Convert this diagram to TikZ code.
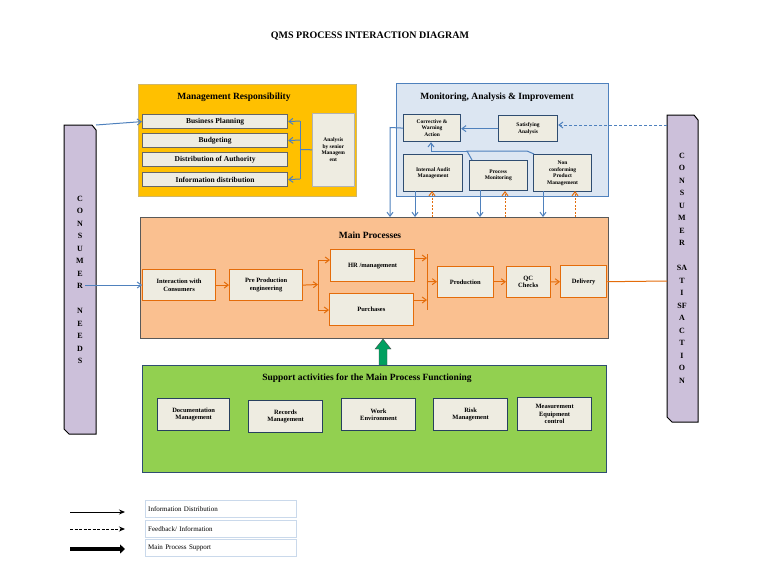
\documentclass[tikz,border=0pt]{standalone}
\usepackage{fontspec}
\setmainfont{Liberation Serif}
\usetikzlibrary{arrows.meta,calc}
\definecolor{mgold}{HTML}{FFC000}
\definecolor{mblue}{HTML}{DCE6F2}
\definecolor{bline}{HTML}{4F81BD}
\definecolor{morange}{HTML}{FAC090}
\definecolor{oline}{HTML}{E46C0A}
\definecolor{mgreen}{HTML}{92D050}
\definecolor{mpurp}{HTML}{CCC0DA}
\definecolor{boxf}{HTML}{EEECE1}
\definecolor{sgreen}{HTML}{00A060}
\begin{document}
\begin{tikzpicture}[x=1pt,y=-1pt,
 box/.style={draw=#1,fill=boxf,line width=1.2pt,inner sep=0pt,align=center,font=\bfseries\fontsize{6.5}{7.5}\selectfont},
 bx/.style args={#1,#2,#3,#4}{minimum width={#3-#1},minimum height={#4-#2}},
 ttl/.style={font=\bfseries\fontsize{9.5}{11}\selectfont},
 barr/.style={draw=bline,line width=1pt,-{Straight Barb[length=4pt,width=6pt]}},
 oarr/.style={draw=oline,line width=1pt,-{Straight Barb[length=4pt,width=6pt]}},
 odash/.style={oarr,dashed,dash pattern=on 2pt off 1.5pt},
 side/.style={font=\bfseries\fontsize{8}{12.5}\selectfont,align=center,inner sep=0pt},
 leg/.style={draw=bline!30,fill=white,minimum width=151,minimum height=17,inner sep=3pt,text width=145,align=left,font=\fontsize{7}{8}\selectfont}]
\useasboundingbox (0,0) rectangle (768,576);
\node[font=\bfseries\fontsize{10}{12}\selectfont] (title) at (370,36) {QMS PROCESS INTERACTION DIAGRAM};

% side bars
\draw[fill=mpurp,line width=1pt] (64,125) -- (92,125) -- (96,130) -- (96,434) -- (69,434) -- (64,429) -- cycle;
\coordinate (cn) at (96,125);
\node[side] (cneeds) at (80,280) {C\\O\\N\\S\\U\\M\\E\\R\\[12.5pt]N\\E\\E\\D\\S};
\draw[fill=mpurp,line width=1pt] (667,115) -- (694,115) -- (698,120) -- (698,422) -- (672,422) -- (667,417) -- cycle;
\node[side] (csat) at (682,268) {C\\O\\N\\S\\U\\M\\E\\R\\[12.5pt]SA\\T\\I\\SF\\A\\C\\T\\I\\O\\N};

% management
\draw[fill=mgold,draw=mgold!70!black!60] (138,84) rectangle (356,196);
\node[ttl] (mt) at (234,97) {Management Responsibility};
\node[box=black!60,bx={142,114,287,128},anchor=north west,font=\bfseries\fontsize{7.5}{9}\selectfont] (bp) at (142,114) {Business Planning};
\node[box=black!60,bx={142,133,287,147},anchor=north west,font=\bfseries\fontsize{7.5}{9}\selectfont] (bud) at (142,133) {Budgeting};
\node[box=black!60,bx={142,152,287,166},anchor=north west,font=\bfseries\fontsize{7.5}{9}\selectfont] (doa) at (142,152) {Distribution of Authority};
\node[box=black!60,bx={142,172,287,186},anchor=north west,font=\bfseries\fontsize{7.5}{9}\selectfont] (infd) at (142,172) {Information distribution};
\node[box=black!30,line width=0.6pt,bx={312,113,354,186},anchor=north west,font=\bfseries\fontsize{5.5}{6.5}\selectfont] (ana) at (312,113) {Analysis\\by senior\\Managem\\ent};
\draw[bline,line width=1pt] (ana.west) -- (300,149.5) coordinate (aj);
\draw[bline,line width=1pt] (300,121) -- (300,179);
\draw[barr] (300,121) -- (bp.east);
\draw[barr] (300,140) -- (bud.east);
\draw[barr] (300,179) -- (infd.east);
\draw[barr] (cn) -- (bp.west);

% monitoring
\draw[fill=mblue,draw=bline,line width=0.8pt] (396,83) rectangle (608,196);
\node[ttl] (mon) at (497,97) {Monitoring, Analysis \& Improvement};
\node[box=bline!60!black,bx={403,114,460,141},anchor=north west,font=\bfseries\fontsize{5.5}{6.5}\selectfont] (corr) at (403,114) {Corrective \&\\Warning\\Action};
\node[box=bline!60!black,bx={498,115,557,141},anchor=north west,font=\bfseries\fontsize{5.5}{6.5}\selectfont] (satan) at (498,115) {Satisfying\\Analysis};
\node[box=bline!60!black,bx={403,154,462,191},anchor=north west,font=\bfseries\fontsize{5.5}{6.5}\selectfont] (ia) at (403,154) {Internal Audit\\Management};
\node[box=bline!60!black,line width=0.6pt,bx={469,160,527,190},anchor=north west,font=\bfseries\fontsize{5.5}{6.5}\selectfont] (pm) at (469,160) {Process\\Monitoring};
\node[box=bline!60!black,bx={533,154,591,191},anchor=north west,font=\bfseries\fontsize{5.5}{6.5}\selectfont] (nc) at (533,154) {Non\\conforming\\Product\\Management};
\draw[barr] (satan.west) -- (corr.east |- satan.west);
\draw[bline,line width=1pt] (pm.north west) ++(3,0) -- (467,151) -- (527,151) -- ([xshift=1pt]nc.north west);
\draw[barr] (467,151) -- (431,151) -- (corr.south -| 431,0);
\draw[barr,dashed,dash pattern=on 3pt off 2pt] (667,125) -- (satan.east |- 0,125);

% main processes
\draw[fill=morange,draw=black!65,line width=1pt] (140,217) rectangle (608,338);
\node[ttl] (mp) at (370,235) {Main Processes};
\node[box=oline,bx={142,269,215,300},anchor=north west] (ic) at (142,269) {Interaction with\\Consumers};
\node[box=oline,bx={229,269,302,300},anchor=north west] (pp) at (229,269) {Pre Production\\engineering};
\node[box=oline,bx={330,249,414,281},anchor=north west] (hr) at (330,249) {HR /management};
\node[box=oline,line width=0.6pt,bx={329,293,413,325},anchor=north west] (pur) at (329,293) {Purchases};
\node[box=oline,line width=0.6pt,bx={437,266,493,297},anchor=north west] (prod) at (437,266) {Production};
\node[box=oline,line width=0.6pt,bx={506,266,550,297},anchor=north west] (qc) at (506,266) {QC\\Checks};
\node[box=oline,line width=1.4pt,bx={560,265,606,297},anchor=north west] (del) at (560,265) {Delivery};
\draw[oarr] (ic) -- (pp);
\draw[oarr] (pp.east) -- (318,284.5);
\draw[oline,line width=1pt] (318,260) -- (318,310);
\draw[oarr] (318,260) -- (hr.west |- 0,260);
\draw[oarr] (318,310) -- (pur.west |- 0,310);
\draw[oarr] (hr.east |- 0,258) -- (427,258);
\draw[oarr] (pur.east |- 0,300) -- (427,300);
\draw[oline,line width=1pt] (427,254) -- (427,310);
\draw[oarr] (427,281.5) -- (prod.west);
\draw[oarr] (prod) -- (qc);
\draw[oarr] (qc) -- (del);
\draw[oline,line width=1pt] (del.east) -- (667,281);
\draw[barr] (85,285) -- (ic.west |- 0,285);

% monitoring <-> main
\draw[barr] (corr.west) -- (390,127.5) -- (390,217);
\draw[barr] (415,191) -- (415,217);
\draw[barr] (480,190) -- (480,217);
\draw[barr] (543,191) -- (543,217);
\draw[odash] (432,217) -- (432,191);
\draw[odash] (505,217) -- (505,191);
\draw[odash] (575,217) -- (575,191);

% support
\draw[fill=mgreen,draw=bline!60!black,line width=1pt] (142,365) rectangle (606,472);
\node[ttl] (sup) at (367,378) {Support activities for the Main Process Functioning};
\node[box=bline!50!black,bx={157,398,229,430},anchor=north west] (doc) at (157,398) {Documentation\\Management};
\node[box=bline!50!black,bx={248,400,322,432},anchor=north west] (rec) at (248,400) {Records\\Management};
\node[box=bline!50!black,bx={341,398,415,430},anchor=north west] (work) at (341,398) {Work\\Environment};
\node[box=bline!50!black,bx={433,398,507,430},anchor=north west] (risk) at (433,398) {Risk\\Management};
\node[box=bline!50!black,bx={517,397,591,430},anchor=north west] (meas) at (517,397) {Measurement\\Equipment\\control};
\coordinate (gs) at (383,365);
\coordinate (ge) at (383,339);
\draw[draw=black!70,fill=sgreen] (379,365) -- (379,349) -- (375,349) -- (383,339) -- (391,349) -- (387,349) -- (387,365) -- cycle;

% legend
\node[leg,anchor=north west] (l1) at (145,500) {Information Distribution};
\node[leg,anchor=north west] (l2) at (145,520) {Feedback/ Information};
\node[leg,anchor=north west] (l3) at (145,539) {Main Process Support};
\coordinate (a1) at (70,512); \coordinate (b1) at (125,512);
\coordinate (a2) at (70,529); \coordinate (b2) at (125,529);
\coordinate (a3) at (70,549); \coordinate (b3) at (125,549);
\draw[line width=0.9pt,-{Stealth[length=6pt,width=5pt]}] (a1) -- (b1);
\draw[line width=0.9pt,dashed,dash pattern=on 3pt off 1.5pt,-{Stealth[length=6pt,width=5pt]}] (a2) -- (b2);
\draw[line width=4pt,-{Triangle[length=5pt,width=9pt]}] (a3) -- (b3);
\end{tikzpicture}
\end{document}
